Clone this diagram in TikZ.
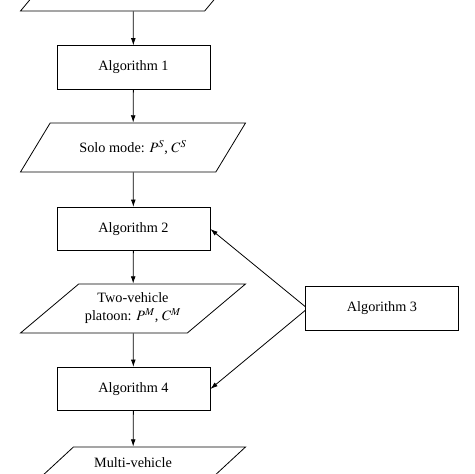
\documentclass[tikz,border=0pt]{standalone}
\usepackage{mathptmx}
\usepackage[no-math]{fontspec}
\setmainfont{Liberation Serif}
\usetikzlibrary{shapes.geometric,arrows.meta}
\begin{document}
\begin{tikzpicture}[x=0.75pt,y=-0.75pt,
        box/.style={rectangle,draw,line width=.6pt,minimum width=114.75pt,minimum height=32.5pt,inner sep=2pt,font=\fontsize{10.7}{13.5}\selectfont},
        io/.style={trapezium,trapezium left angle=30,trapezium right angle=150,trapezium stretches body=true,draw,line width=.6pt,minimum width=168.75pt,minimum height=36.75pt,inner sep=1pt,align=center,font=\fontsize{10.7}{13.5}\selectfont},
        arr/.style={-{Latex[length=5.5pt,width=3.6pt]},line width=.6pt}]
            \useasboundingbox (0,0) rectangle (474,474);
            \node(in)[io] at (133,-13.5){\mbox{}\\$x_k$, $y_k$, $t$};
            \node(alg1)[box] at (133.5,67.5){Algorithm 1};
            \node(solo)[io] at (133,147.5){Solo mode: $P^S$, $C^S$};
            \node(alg2)[box] at (133.5,229){Algorithm 2};
            \node(two)[io] at (133,308.5){Two-vehicle\\platoon: $P^M$, $C^M$};
            \node(alg3)[box] at (382,308.5){Algorithm 3};
            \node(alg4)[box] at (133.5,389){Algorithm 4};
            \node(multi)[io] at (133,471.5){Multi-vehicle\\\mbox{}};
            \coordinate(a3u) at ([yshift=1.5pt]alg3.west);
            \coordinate(a3d) at ([yshift=-1.5pt]alg3.west);
            \draw[arr] (in) -- (alg1);
            \draw[arr] (alg1) -- (solo);
            \draw[arr] (solo) -- (alg2);
            \draw[arr] (alg2) -- (two);
            \draw[arr] (two) -- (alg4);
            \draw[arr] (alg4) -- (multi);
            \draw[arr,{Latex[length=5.5pt,width=3.6pt]}-] (alg2.east) -- (a3u);
            \draw[arr,{Latex[length=5.5pt,width=3.6pt]}-] (alg4.east) -- (a3d);
        \end{tikzpicture}
\end{document}
